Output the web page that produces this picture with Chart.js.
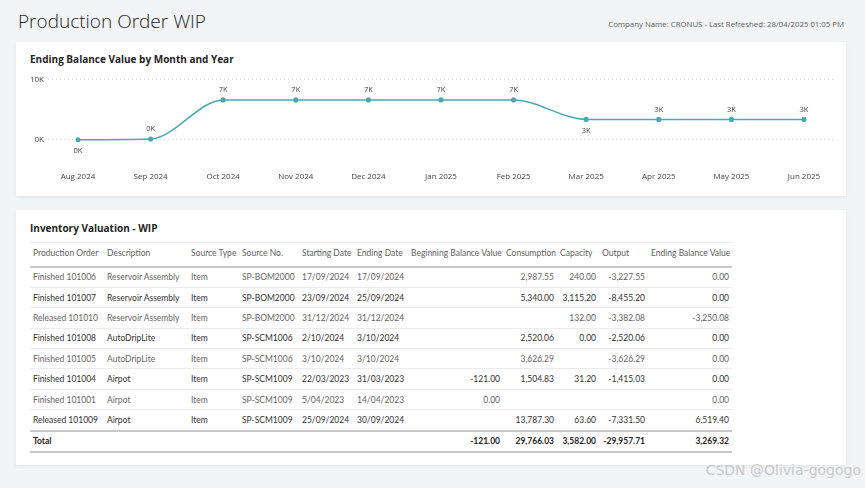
<!DOCTYPE html>
<html>
<head>
<meta charset="utf-8">
<script src="https://cdn.jsdelivr.net/npm/chart.js@4"></script>
<style>
  body { margin: 0; width: 865px; height: 488px; background: #f3f4f6; font-family: "Open Sans", sans-serif; position: relative; overflow: hidden; color: #252423; }
  .page-title { position: absolute; left: 18px; top: 8px; font-size: 19px; font-weight: 300; color: #252423; }
  .refresh { position: absolute; right: 21px; top: 19px; font-size: 7.8px; color: #605e5c; }
  .card { position: absolute; left: 16px; width: 830px; background: #fff; box-shadow: 0 1px 4px rgba(0,0,0,0.08); }
  .card-title { position: absolute; left: 14px; font-size: 10px; font-weight: 700; color: #252423; }
  #chartBox { position: absolute; left: 0; top: 26px; width: 830px; height: 115px; }
  table { position: absolute; left: 14px; top: 32px; border-collapse: collapse; table-layout: fixed; width: 702px; font-size: 8.5px; font-family: Lato, sans-serif; }
  th { font-weight: 400; color: #605e5c; text-align: left; height: 24px; padding: 0 3px; border-top: 1px solid #eaeaea; border-bottom: 2px solid #c8c8c8; white-space: nowrap; vertical-align: top; padding-top: 5px; box-sizing: border-box; }
  td { height: 19.4px; padding: 0 3px; border-bottom: 1px solid #ececec; white-space: nowrap; color: #323130; }
  td.n { text-align: right; padding-right: 3px; }
  tr.alt td { color: #66645f; }
  tr.total td { font-weight: 700; color: #252423; border-top: 2px solid #c8c8c8; border-bottom: 2px solid #c8c8c8; }
  .watermark { position: absolute; right: 4px; top: 462px; font-size: 14px; color: #c9c9c9; font-family: "DejaVu Sans", sans-serif; }
</style>
</head>
<body>
<div class="page-title">Production Order WIP</div>
<div class="refresh">Company Name: CRONUS - Last Refreshed: 28/04/2025 01:05 PM</div>

<div class="card" style="top:42px;height:154px;">
  <div class="card-title" style="top:10px;">Ending Balance Value by Month and Year</div>
  <div id="chartBox"><canvas id="balanceChart"></canvas></div>
</div>

<div class="card" style="top:210px;height:255px;">
  <div class="card-title" style="top:11px;">Inventory Valuation - WIP</div>
  <table id="wipTable"></table>
</div>

<div class="watermark">CSDN @Olivia-gogogo</div>

<script>
// chart data
const months = ["Aug 2024", "Sep 2024", "Oct 2024", "Nov 2024", "Dec 2024", "Jan 2025",
  "Feb 2025", "Mar 2025", "Apr 2025", "May 2025", "Jun 2025"];
const endingBalance = [-121, 0, 6519.4, 6519.4, 6519.4, 6519.4, 6519.4, 3269.32, 3269.32, 3269.32, 3269.32];
const yTicks = [0, 10000];

// table data
const headers = ["Production Order", "Description", "Source Type", "Source No.", "Starting Date",
  "Ending Date", "Beginning Balance Value", "Consumption", "Capacity", "Output", "Ending Balance Value"];
const colWidths = [74, 84, 51, 60, 55, 54, 95, 54, 42, 49, 84];
const orders = ["Finished 101006", "Finished 101007", "Released 101010", "Finished 101008",
  "Finished 101005", "Finished 101004", "Finished 101001", "Released 101009"];
const descriptions = ["Reservoir Assembly", "Reservoir Assembly", "Reservoir Assembly", "AutoDripLite",
  "AutoDripLite", "Airpot", "Airpot", "Airpot"];
const sourceTypes = ["Item", "Item", "Item", "Item", "Item", "Item", "Item", "Item"];
const sourceNos = ["SP-BOM2000", "SP-BOM2000", "SP-BOM2000", "SP-SCM1006", "SP-SCM1006",
  "SP-SCM1009", "SP-SCM1009", "SP-SCM1009"];
const startDates = ["17/09/2024", "23/09/2024", "31/12/2024", "2/10/2024", "3/10/2024",
  "22/03/2023", "5/04/2023", "25/09/2024"];
const endDates = ["17/09/2024", "25/09/2024", "31/12/2024", "3/10/2024", "3/10/2024",
  "31/03/2023", "14/04/2023", "30/09/2024"];
const beginBalance = [null, null, null, null, null, -121.00, 0.00, null];
const consumption = [2987.55, 5340.00, null, 2520.06, 3626.29, 1504.83, null, 13787.30];
const capacity = [240.00, 3115.20, 132.00, 0.00, null, 31.20, null, 63.60];
const output = [-3227.55, -8455.20, -3382.08, -2520.06, -3626.29, -1415.03, null, -7331.50];
const endBalance = [0.00, 0.00, -3250.08, 0.00, 0.00, 0.00, 0.00, 6519.40];
const totals = [-121.00, 29766.03, 3582.00, -29957.71, 3269.32];

const fmt = (v) => v === null ? "" :
  v.toLocaleString("en-US", { minimumFractionDigits: 2, maximumFractionDigits: 2 });

function buildTable() {
  const t = document.getElementById("wipTable");
  let html = "<colgroup>" + colWidths.map((w) => `<col style="width:${w}px">`).join("") + "</colgroup>";
  html += "<tr>" + headers.map((h) => `<th>${h}</th>`).join("") + "</tr>";
  orders.forEach((o, i) => {
    html += `<tr class="${i % 2 === 0 ? "alt" : ""}">
      <td>${o}</td><td>${descriptions[i]}</td><td>${sourceTypes[i]}</td><td>${sourceNos[i]}</td>
      <td>${startDates[i]}</td><td>${endDates[i]}</td>
      <td class="n">${fmt(beginBalance[i])}</td><td class="n">${fmt(consumption[i])}</td>
      <td class="n">${fmt(capacity[i])}</td><td class="n">${fmt(output[i])}</td>
      <td class="n">${fmt(endBalance[i])}</td></tr>`;
  });
  html += `<tr class="total"><td>Total</td><td></td><td></td><td></td><td></td><td></td>` +
    totals.map((v) => `<td class="n">${fmt(v)}</td>`).join("") + "</tr>";
  t.innerHTML = html;
}
buildTable();

// dotted gridlines wider than the plot, y labels, and data labels
const gridAndLabels = {
  id: "gridAndLabels",
  beforeDatasetsDraw(chart) {
    const { ctx, scales } = chart;
    ctx.save();
    ctx.font = "8px 'Open Sans'";
    ctx.fillStyle = "#444";
    ctx.textAlign = "right";
    ctx.textBaseline = "middle";
    yTicks.forEach((v) => {
      const y = Math.round(scales.y.getPixelForValue(v)) + 0.5;
      ctx.fillText((v / 1000) + "K", 28, y);
      ctx.strokeStyle = "#d6d6d6";
      ctx.lineWidth = 1;
      ctx.setLineDash([1, 3]);
      ctx.beginPath();
      ctx.moveTo(32, y);
      ctx.lineTo(818, y);
      ctx.stroke();
    });
    ctx.restore();
  },
  afterDatasetsDraw(chart) {
    const { ctx } = chart;
    const meta = chart.getDatasetMeta(0);
    const vals = chart.data.datasets[0].data;
    ctx.save();
    ctx.font = "7.5px 'Open Sans'";
    ctx.fillStyle = "#444";
    ctx.textAlign = "center";
    ctx.textBaseline = "middle";
    meta.data.forEach((pt, i) => {
      const v = vals[i];
      const below = v < 0 || (i > 0 && v < vals[i - 1]);
      ctx.fillText(Math.round(v / 1000) + "K", pt.x, pt.y + (below ? 11 : -10));
    });
    ctx.restore();
  },
};

new Chart(document.getElementById("balanceChart").getContext("2d"), {
  type: "line",
  data: {
    labels: months,
    datasets: [{
      data: endingBalance,
      borderColor: "#4aa8b2",
      backgroundColor: "#4aa8b2",
      borderWidth: 1.5,
      pointRadius: 1.8,
      pointHoverRadius: 2,
      cubicInterpolationMode: "monotone",
    }],
  },
  options: {
    responsive: true,
    maintainAspectRatio: false,
    animation: false,
    layout: { padding: { top: 11, right: 42, left: 62, bottom: 0 } },
    plugins: { legend: { display: false }, tooltip: { enabled: false } },
    scales: {
      x: {
        offset: false,
        afterFit: (s) => { s.height = 32; },
        grid: { display: false, drawTicks: false },
        border: { display: false },
        ticks: { color: "#444", font: { size: 8, family: "'Open Sans'" }, padding: 21, maxRotation: 0, autoSkip: false },
      },
      y: {
        display: false,
        min: -2000,
        max: 10000,
      },
    },
  },
  plugins: [gridAndLabels],
});
</script>
</body>
</html>
